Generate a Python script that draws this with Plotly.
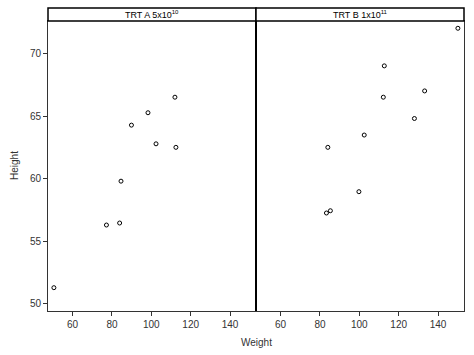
import plotly.graph_objects as go
from plotly.subplots import make_subplots

panels = ["TRT A 5x10<sup><span style='font-size:6px'>10</span></sup>",
          "TRT B 1x10<sup><span style='font-size:6px'>11</span></sup>"]
weight_a = [50.5, 77.2, 83.9, 84.6, 89.9, 98.3, 102.4, 112.0, 112.5]
height_a = [51.3, 56.3, 56.46, 59.8, 64.27, 65.26, 62.78, 66.5, 62.5]
weight_b = [150.1, 112.7, 133.2, 112.2, 128.0, 102.5, 84.0, 99.8, 85.3, 83.3]
height_b = [72.0, 69.0, 67.0, 66.5, 64.8, 63.48, 62.5, 58.96, 57.44, 57.26]
x_ticks = [60, 80, 100, 120, 140]
y_ticks = [50, 55, 60, 65, 70]

fig = make_subplots(rows=1, cols=2, shared_yaxes=True, horizontal_spacing=0)
marker = dict(symbol="circle-open", size=4, color="black", line=dict(width=1, color="black"))
fig.add_trace(go.Scatter(x=weight_a, y=height_a, mode="markers", marker=marker, showlegend=False), 1, 1)
fig.add_trace(go.Scatter(x=weight_b, y=height_b, mode="markers", marker=marker, showlegend=False), 1, 2)

font = dict(family="Liberation Sans, Arial, sans-serif", size=10, color="#333333")
ax = dict(range=[47.5, 153.2], tickvals=x_ticks, ticks="outside", ticklen=4, tickcolor="#333",
          showgrid=False, zeroline=False, showline=True, linecolor="#333", linewidth=1, mirror=True,
          tickfont=font)
fig.update_xaxes(**ax)
fig.update_yaxes(range=[49.44, 72.58], tickvals=y_ticks, ticks="outside", ticklen=4, tickcolor="#333",
                 showgrid=False, zeroline=False, showline=True, linecolor="#333", linewidth=1, mirror=True,
                 tickfont=font)
fig.update_yaxes(ticks="", row=1, col=2)

strip_h = 13 / 290
shapes = []
for i in range(2):
    shapes.append(dict(type="rect", xref="paper", yref="paper", x0=i * 0.5, x1=(i + 1) * 0.5,
                       y0=1, y1=1 + strip_h, line=dict(color="black", width=1.5), fillcolor="white"))
shapes.append(dict(type="line", xref="paper", yref="paper", x0=0.5, x1=0.5, y0=0, y1=1,
                   line=dict(color="black", width=2)))
annotations = []
for i, p in enumerate(panels):
    annotations.append(dict(text=p, xref="paper", yref="paper", x=i * 0.5 + 0.25, y=1 + strip_h / 2,
                            showarrow=False, xanchor="center", yanchor="middle",
                            font=dict(family="Liberation Sans, Arial, sans-serif", size=9, color="black")))
annotations.append(dict(text="Weight", xref="paper", yref="paper", x=0.5, y=0, yshift=-31,
                        showarrow=False, xanchor="center", yanchor="middle", font=font))
annotations.append(dict(text="Height", xref="paper", yref="paper", x=0, y=0.5, xshift=-34,
                        showarrow=False, xanchor="center", yanchor="middle", textangle=-90, font=font))

fig.update_layout(width=474, height=355, margin=dict(l=48, r=10, t=21, b=44),
                  paper_bgcolor="white", plot_bgcolor="white", shapes=shapes, annotations=annotations)
fig.write_html("out.html")
